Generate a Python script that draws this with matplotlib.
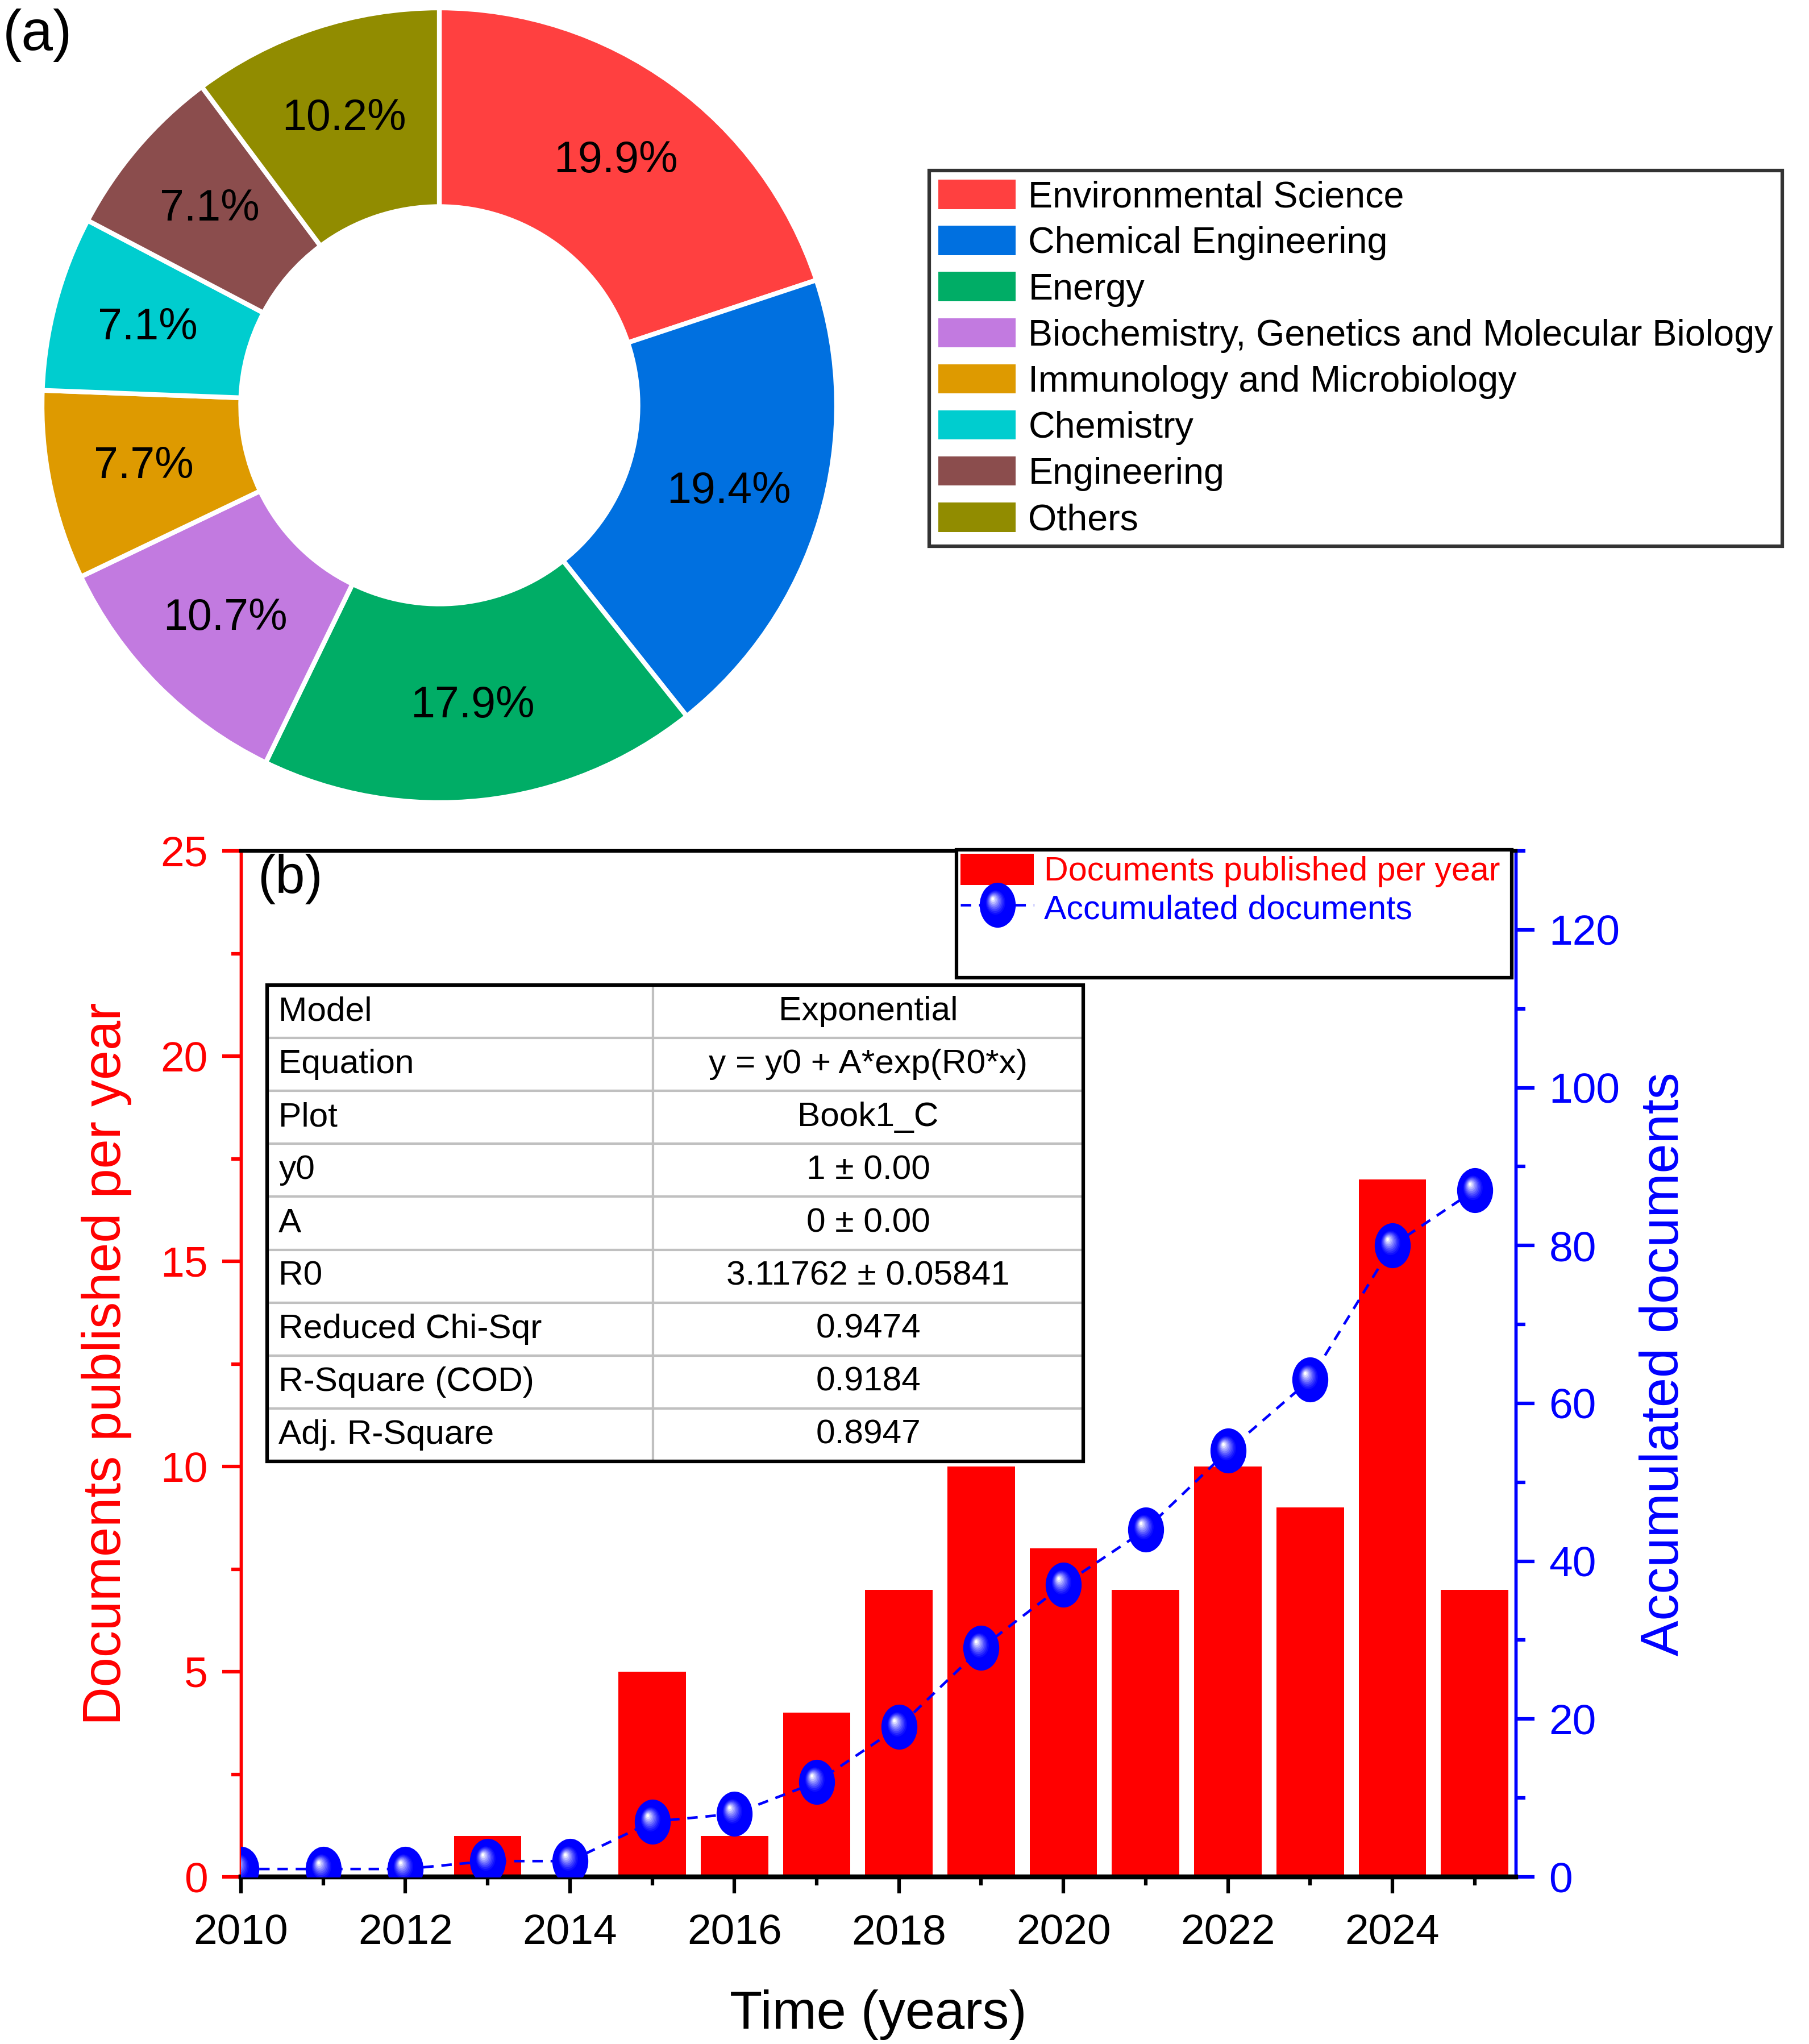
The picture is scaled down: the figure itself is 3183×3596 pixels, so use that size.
#!/usr/bin/env python3
"""Subject-area donut (a) and yearly / accumulated documents with fit table (b)."""

import numpy as np
import matplotlib

matplotlib.use("Agg")
import matplotlib.pyplot as plt
import matplotlib.transforms as mtransforms
from matplotlib.path import Path
from matplotlib.markers import MarkerStyle
from matplotlib.patches import Patch, Rectangle
from matplotlib.legend_handler import HandlerTuple
from matplotlib.table import Table

plt.rcParams["font.family"] = ["Liberation Sans", "DejaVu Sans"]

# ---- panel (a) data
subjects = [
    "Environmental Science",
    "Chemical Engineering",
    "Energy",
    "Biochemistry, Genetics and Molecular Biology",
    "Immunology and Microbiology",
    "Chemistry",
    "Engineering",
    "Others",
]
shares = [19.9, 19.4, 17.9, 10.7, 7.7, 7.1, 7.1, 10.2]
subject_colors = ["#ff4040", "#0070e0", "#00ad66", "#c27ae0", "#de9a00", "#00cdcf", "#8b4d4d", "#918c00"]

# ---- panel (b) data
years = list(range(2010, 2026))
per_year = [0, 0, 0, 1, 0, 5, 1, 4, 7, 10, 8, 7, 10, 9, 17, 7]
accumulated = [1, 1, 1, 2, 2, 7, 8, 12, 19, 29, 37, 44, 54, 63, 80, 87]

fit_names = ["Model", "Equation", "Plot", "y0", "A", "R0", "Reduced Chi-Sqr", "R-Square (COD)", "Adj. R-Square"]
fit_values = ["Exponential", "y = y0 + A*exp(R0*x)", "Book1_C", "1 \u00b1 0.00", "0 \u00b1 0.00",
              "3.11762 \u00b1 0.05841", "0.9474", "0.9184", "0.8947"]

W, H = 3183, 3596
fig = plt.figure(figsize=(W / 300, H / 300), dpi=300)

# ================= (a) donut
ax_a = fig.add_axes([67 / W, 1 - 1419 / H, 1412 / W, 1412 / H])
ax_a.pie(shares, colors=subject_colors, startangle=90, counterclock=False,
         wedgeprops=dict(width=0.5, edgecolor="white", linewidth=2),
         autopct="%.1f%%", pctdistance=0.76, textprops=dict(fontsize=18.5, color="black"))
ax_a.set_xlim(-1.01, 1.01)
ax_a.set_ylim(-1.01, 1.01)
ax_a.set_aspect("equal")
ax_a.axis("off")
fig.text(5 / W, 1 - 15 / H, "(a)", fontsize=24, va="top", ha="left")

pie_handles = [Patch(facecolor=c, edgecolor="none") for c in subject_colors]
leg_a = fig.legend(pie_handles, subjects, loc="upper left", bbox_to_anchor=(1635 / W, 1 - 300 / H),
                   frameon=True, fancybox=False, edgecolor="black", fontsize=15.5,
                   handlelength=2.1, handleheight=0.85, handletextpad=0.35, labelspacing=0.31,
                   borderpad=0.25, borderaxespad=0)
leg_a.get_frame().set_linewidth(1.5)

# ================= (b) bars + accumulated
ax = fig.add_axes([424 / W, 1 - 3302 / H, 2243 / W, 1805 / H])
ax.bar(years, per_year, width=0.82, color="#ff0000", zorder=2)
ax.set_xlim(2010, 2025.5)
ax.set_ylim(0, 25)
ax.set_xticks(range(2010, 2025, 2))
ax.set_xticks(range(2011, 2026, 2), minor=True)
ax.set_yticks(range(0, 26, 5))
ax.set_yticks(np.arange(2.5, 25, 5), minor=True)
ax.tick_params(axis="x", which="major", direction="out", length=7, width=1.5, labelsize=18, pad=8.5)
ax.tick_params(axis="x", which="minor", direction="out", length=3.5, width=1.5)
ax.tick_params(axis="y", which="major", colors="red", direction="out", length=8, width=1.5, labelsize=18, pad=6)
ax.tick_params(axis="y", which="minor", colors="red", direction="out", length=4, width=1.5)
ax.set_xlabel("Time (years)", fontsize=22.5, labelpad=15.5)
ax.set_ylabel("Documents published per year", fontsize=22.5, color="red", labelpad=12)

ax2 = ax.twinx()
ax2.set_ylim(0, 130)
ax2.set_yticks(range(0, 121, 20))
ax2.set_yticks(range(10, 131, 20), minor=True)
ax2.tick_params(axis="y", which="major", colors="blue", direction="out", length=8, width=1.5, labelsize=18, pad=6)
ax2.tick_params(axis="y", which="minor", colors="blue", direction="out", length=4, width=1.5)
ax2.set_ylabel("Accumulated documents", fontsize=22.5, color="blue", labelpad=8)

for a in (ax, ax2):
    a.spines["left"].set_color("red")
    a.spines["left"].set_linewidth(1.3)
    a.spines["right"].set_color("blue")
    a.spines["right"].set_linewidth(1.3)
    a.spines["top"].set_linewidth(1.5)
    a.spines["bottom"].set_linewidth(2.0)


# shaded sphere marker built from stacked ellipses
def ellipse_marker(sx, sy, cx, cy):
    p = mtransforms.Affine2D().scale(sx, sy).translate(cx, cy).transform_path(Path.unit_circle())
    return MarkerStyle(p), np.max(np.abs(p.vertices))


ms_base = 19
base_marker, base_ext = ellipse_marker(0.8, 1.0, 0, 0)
line_acc, = ax2.plot(years, accumulated, color="blue", lw=1.1, ls=(0, (4, 3)),
                     marker=base_marker, ms=ms_base, mfc="blue", mec="none", zorder=3)
sphere_parts = [line_acc]
n_layers = 9
for i in range(n_layers):
    t = (i + 1) / n_layers
    s = 0.6 * (1 - t) + 0.07 * t
    cx = -0.08 * (1 - t) - 0.22 * t
    cy = 0.1 * (1 - t) + 0.28 * t
    mk, ext = ellipse_marker(0.8 * s, 1.0 * s, cx, cy)
    col = (t ** 1.3, t ** 1.3, 1.0)
    ln, = ax2.plot(years, accumulated, ls="none", marker=mk, ms=ms_base * ext / base_ext,
                   mfc=col, mec="none", zorder=3 + 0.01 * (i + 1))
    sphere_parts.append(ln)

ax.text(0.013, 0.997, "(b)", transform=ax.transAxes, fontsize=22.5, va="top", ha="left")

# legend box of panel (b)
lx0, ly0, lx1, ly1 = (1683 - 424) / 2243, (3302 - 1720) / 1805, (2660 - 424) / 2243, (3302 - 1495) / 1805
ax2.add_patch(Rectangle((lx0, ly0), lx1 - lx0, ly1 - ly0, transform=ax2.transAxes, facecolor="white",
                        edgecolor="black", lw=1.5, zorder=6, clip_on=False))
leg_b = ax2.legend([Patch(facecolor="#ff0000"), tuple(sphere_parts)],
                   ["Documents published per year", "Accumulated documents"],
                   handler_map={tuple: HandlerTuple(ndivide=1, pad=0)},
                   loc="upper left", bbox_to_anchor=(lx0 + 0.002, ly1 - 0.002), frameon=False,
                   fontsize=14.2, handlelength=2.17, handleheight=1.06, handletextpad=0.3,
                   labelspacing=0.12, borderpad=0.05, borderaxespad=0, numpoints=1)
leg_b.set_zorder(7)
for txt, c in zip(leg_b.get_texts(), ["red", "blue"]):
    txt.set_color(c)

# fit table
tx0, ty0 = (470 - 424) / 2243, (3302 - 2571) / 1805
tx1, ty1 = (1906 - 424) / 2243, (3302 - 1733) / 1805
col_split = (1149 - 424) / 2243
tab = Table(ax2, bbox=[tx0, ty0, tx1 - tx0, ty1 - ty0])
w0, w1 = col_split - tx0, tx1 - col_split
for r, (name, val) in enumerate(zip(fit_names, fit_values)):
    c0 = tab.add_cell(r, 0, width=w0, height=1, text=name, loc="left", facecolor="white", edgecolor="#c0c0c0")
    c0.PAD = 0.03
    tab.add_cell(r, 1, width=w1, height=1, text=val, loc="center", facecolor="white", edgecolor="#c0c0c0")
tab.auto_set_font_size(False)
tab.set_fontsize(14.5)
for cell in tab.get_celld().values():
    cell.set_linewidth(1.0)
tab.set_zorder(5)
ax2.add_table(tab)
ax2.add_patch(Rectangle((tx0, ty0), tx1 - tx0, ty1 - ty0, transform=ax2.transAxes, fill=False,
                        edgecolor="black", lw=1.5, zorder=6))

fig.savefig("out.png", dpi=300)
print("Saved out.png")
